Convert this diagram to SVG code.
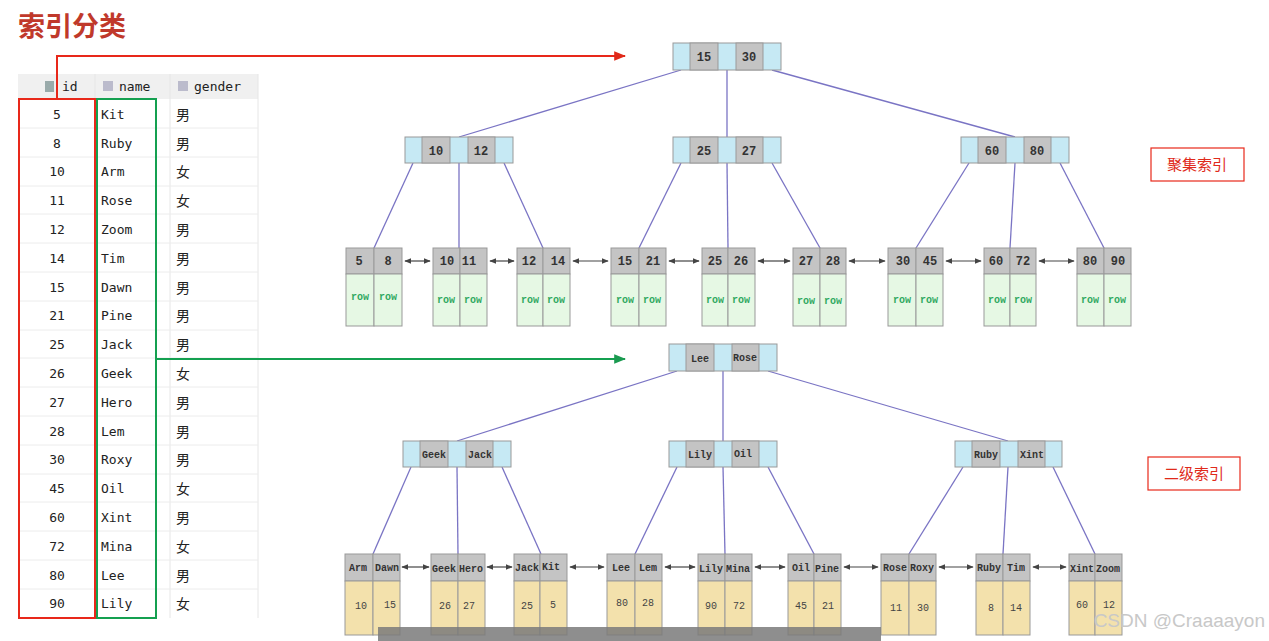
<svg xmlns="http://www.w3.org/2000/svg" width="1269" height="641" viewBox="0 0 1269 641">
<style>
.tb{font-family:"DejaVu Sans Mono","Liberation Mono",monospace;font-size:13px;fill:#222}
.cj{font-family:"Noto Sans CJK SC",sans-serif;font-size:14px;fill:#222}
.bl{fill:#c6e9f4;stroke:#999;stroke-width:1}
.gr{fill:#c4c4c4;stroke:#999;stroke-width:1}
.gn{fill:#e6f8e4;stroke:#999;stroke-width:1}
.yl{fill:#f3e1ac;stroke:#999;stroke-width:1}
.k{font-family:"Liberation Mono",monospace;font-weight:bold;font-size:12px;fill:#333;text-anchor:middle}
.ks{font-family:"Liberation Mono",monospace;font-weight:bold;font-size:10px;fill:#333;text-anchor:middle}
.rw{font-family:"Liberation Mono",monospace;font-weight:bold;font-size:10px;fill:#2fa860;text-anchor:middle}
.yv{font-family:"Liberation Mono",monospace;font-size:10px;fill:#444;text-anchor:middle}
.e{stroke:#7a74c4;stroke-width:1.3;fill:none}
.la{stroke:#444;stroke-width:1.2;marker-start:url(#ah);marker-end:url(#ah)}
.lbl{font-family:"Noto Sans CJK SC",sans-serif;font-size:15px;fill:#e02a1a;text-anchor:middle}
</style>
<defs>
<marker id="ah" viewBox="0 0 10 10" refX="9" refY="5" markerWidth="6" markerHeight="6" orient="auto-start-reverse"><path d="M0,1 L10,5 L0,9 z" fill="#444"/></marker>
<marker id="ar" viewBox="0 0 10 10" refX="9" refY="5" markerWidth="6" markerHeight="6" orient="auto"><path d="M0,1 L10,5 L0,9 z" fill="#e02a1a"/></marker>
<marker id="ag" viewBox="0 0 10 10" refX="9" refY="5" markerWidth="6" markerHeight="6" orient="auto"><path d="M0,1 L10,5 L0,9 z" fill="#1a9a50"/></marker>
</defs>
<rect width="1269" height="641" fill="#fff"/>
<text x="18" y="36" font-family="Noto Sans CJK SC,sans-serif" font-size="27" font-weight="bold" fill="#c0392b">索引分类</text>

<g id="table">
<rect x="18" y="74" width="240" height="25" fill="#f0f0f0"/>
<rect x="45" y="81" width="9" height="11" fill="#9aa" /><text x="62" y="91" class="tb">id</text>
<rect x="103" y="81" width="10" height="10" fill="#bbc"/><text x="119" y="91" class="tb">name</text>
<rect x="178" y="81" width="10" height="10" fill="#bbc"/><text x="194" y="91" class="tb">gender</text>
<g stroke="#e6e6e6" stroke-width="1">
<line x1="95" y1="74" x2="95" y2="618"/><line x1="170" y1="74" x2="170" y2="618"/><line x1="258" y1="74" x2="258" y2="618"/>
</g>
<g class="tb" id="rows"></g>
</g>
<g id="tablerows">
<g stroke="#ececec"><line x1="18" y1="128" x2="258" y2="128"/><line x1="18" y1="157" x2="258" y2="157"/><line x1="18" y1="186" x2="258" y2="186"/><line x1="18" y1="214" x2="258" y2="214"/><line x1="18" y1="243" x2="258" y2="243"/><line x1="18" y1="272" x2="258" y2="272"/><line x1="18" y1="301" x2="258" y2="301"/><line x1="18" y1="330" x2="258" y2="330"/><line x1="18" y1="358" x2="258" y2="358"/><line x1="18" y1="387" x2="258" y2="387"/><line x1="18" y1="416" x2="258" y2="416"/><line x1="18" y1="445" x2="258" y2="445"/><line x1="18" y1="474" x2="258" y2="474"/><line x1="18" y1="502" x2="258" y2="502"/><line x1="18" y1="531" x2="258" y2="531"/><line x1="18" y1="560" x2="258" y2="560"/><line x1="18" y1="589" x2="258" y2="589"/></g>
<g class="tb" text-anchor="middle">
<text x="57" y="119">5</text><text x="57" y="148">8</text><text x="57" y="176">10</text><text x="57" y="205">11</text><text x="57" y="234">12</text><text x="57" y="263">14</text><text x="57" y="292">15</text><text x="57" y="320">21</text><text x="57" y="349">25</text><text x="57" y="378">26</text><text x="57" y="407">27</text><text x="57" y="436">28</text><text x="57" y="464">30</text><text x="57" y="493">45</text><text x="57" y="522">60</text><text x="57" y="551">72</text><text x="57" y="580">80</text><text x="57" y="608">90</text>
</g>
<g class="tb">
<text x="101" y="119">Kit</text><text x="101" y="148">Ruby</text><text x="101" y="176">Arm</text><text x="101" y="205">Rose</text><text x="101" y="234">Zoom</text><text x="101" y="263">Tim</text><text x="101" y="292">Dawn</text><text x="101" y="320">Pine</text><text x="101" y="349">Jack</text><text x="101" y="378">Geek</text><text x="101" y="407">Hero</text><text x="101" y="436">Lem</text><text x="101" y="464">Roxy</text><text x="101" y="493">Oil</text><text x="101" y="522">Xint</text><text x="101" y="551">Mina</text><text x="101" y="580">Lee</text><text x="101" y="608">Lily</text>
</g>
<g class="cj">
<text x="176" y="120">男</text><text x="176" y="149">男</text><text x="176" y="177">女</text><text x="176" y="206">女</text><text x="176" y="235">男</text><text x="176" y="264">男</text><text x="176" y="293">男</text><text x="176" y="321">男</text><text x="176" y="350">男</text><text x="176" y="379">女</text><text x="176" y="408">男</text><text x="176" y="437">男</text><text x="176" y="465">男</text><text x="176" y="494">女</text><text x="176" y="523">男</text><text x="176" y="552">女</text><text x="176" y="581">男</text><text x="176" y="609">女</text>
</g>
<rect x="19" y="99" width="76" height="519" fill="none" stroke="#e8281a" stroke-width="2"/>
<rect x="97" y="99" width="59" height="519" fill="none" stroke="#14a050" stroke-width="2"/>
</g>

<g id="connectors">
<path d="M57,99 V56 H625" fill="none" stroke="#e8281a" stroke-width="2" marker-end="url(#ar)"/>
<path d="M156,359 H625" fill="none" stroke="#14a050" stroke-width="2" marker-end="url(#ag)"/>
<g class="e">
<line x1="681" y1="70" x2="459" y2="137"/><line x1="727" y1="70" x2="727" y2="137"/><line x1="772" y1="70" x2="1015" y2="137"/>
<line x1="413" y1="163" x2="374" y2="248"/><line x1="459" y1="163" x2="459" y2="248"/><line x1="504" y1="163" x2="543" y2="248"/>
<line x1="681" y1="163" x2="639" y2="248"/><line x1="727" y1="163" x2="728" y2="248"/><line x1="772" y1="163" x2="820" y2="248"/>
<line x1="969" y1="163" x2="916" y2="248"/><line x1="1015" y1="163" x2="1010" y2="248"/><line x1="1060" y1="163" x2="1104" y2="248"/>
<line x1="677" y1="371" x2="457" y2="441"/><line x1="723" y1="371" x2="723" y2="441"/><line x1="768" y1="371" x2="1008" y2="441"/>
<line x1="411" y1="467" x2="373" y2="554"/><line x1="457" y1="467" x2="458" y2="554"/><line x1="502" y1="467" x2="541" y2="554"/>
<line x1="677" y1="467" x2="635" y2="554"/><line x1="723" y1="467" x2="725" y2="554"/><line x1="768" y1="467" x2="814" y2="554"/>
<line x1="963" y1="467" x2="909" y2="554"/><line x1="1008" y1="467" x2="1003" y2="554"/><line x1="1053" y1="467" x2="1095" y2="554"/>
</g>
<line class="la" x1="405" y1="261" x2="430" y2="261"/><line class="la" x1="490" y1="261" x2="514" y2="261"/><line class="la" x1="573" y1="261" x2="608" y2="261"/><line class="la" x1="669" y1="261" x2="699" y2="261"/><line class="la" x1="758" y1="261" x2="790" y2="261"/><line class="la" x1="849" y1="261" x2="885" y2="261"/><line class="la" x1="946" y1="261" x2="981" y2="261"/><line class="la" x1="1039" y1="261" x2="1074" y2="261"/>
<line class="la" x1="402" y1="567" x2="429" y2="567"/><line class="la" x1="487" y1="567" x2="512" y2="567"/><line class="la" x1="570" y1="567" x2="604" y2="567"/><line class="la" x1="665" y1="567" x2="695" y2="567"/><line class="la" x1="755" y1="567" x2="785" y2="567"/><line class="la" x1="844" y1="567" x2="878" y2="567"/><line class="la" x1="939" y1="567" x2="973" y2="567"/><line class="la" x1="1033" y1="567" x2="1066" y2="567"/>
</g>

<g id="c-root"><rect class="bl" x="673" y="43" width="108" height="27"/><rect class="gr" x="690" y="43" width="28" height="27"/><rect class="gr" x="736" y="43" width="27" height="27"/><text class="k" x="704" y="61">15</text><text class="k" x="749" y="61">30</text></g>
<g id="c-n1"><rect class="bl" x="405" y="137" width="108" height="26"/><rect class="gr" x="422" y="137" width="28" height="26"/><rect class="gr" x="468" y="137" width="27" height="26"/><text class="k" x="436" y="155">10</text><text class="k" x="481" y="155">12</text></g>
<g id="c-n2"><rect class="bl" x="673" y="137" width="108" height="26"/><rect class="gr" x="690" y="137" width="28" height="26"/><rect class="gr" x="736" y="137" width="27" height="26"/><text class="k" x="704" y="155">25</text><text class="k" x="749" y="155">27</text></g>
<g id="c-n3"><rect class="bl" x="961" y="137" width="108" height="26"/><rect class="gr" x="978" y="137" width="28" height="26"/><rect class="gr" x="1024" y="137" width="27" height="26"/><text class="k" x="992" y="155">60</text><text class="k" x="1037" y="155">80</text></g>

<g id="c-leaves">
<g><rect class="gr" x="346" y="248" width="28" height="26"/><rect class="gr" x="374" y="248" width="28" height="26"/><rect class="gn" x="346" y="274" width="28" height="52"/><rect class="gn" x="374" y="274" width="28" height="52"/><text class="k" x="359" y="265">5</text><text class="k" x="388" y="265">8</text><text class="rw" x="360" y="300">row</text><text class="rw" x="388" y="300">row</text></g>
<g><rect class="gr" x="433" y="248" width="27" height="26"/><rect class="gr" x="460" y="248" width="27" height="26"/><rect class="gn" x="433" y="274" width="27" height="52"/><rect class="gn" x="460" y="274" width="27" height="52"/><text class="k" x="447" y="265">10</text><text class="k" x="469" y="265">11</text><text class="rw" x="446" y="303">row</text><text class="rw" x="473" y="303">row</text></g>
<g><rect class="gr" x="517" y="248" width="26" height="26"/><rect class="gr" x="543" y="248" width="27" height="26"/><rect class="gn" x="517" y="274" width="26" height="52"/><rect class="gn" x="543" y="274" width="27" height="52"/><text class="k" x="529" y="265">12</text><text class="k" x="558" y="265">14</text><text class="rw" x="530" y="303">row</text><text class="rw" x="556" y="303">row</text></g>
<g><rect class="gr" x="611" y="248" width="28" height="26"/><rect class="gr" x="639" y="248" width="27" height="26"/><rect class="gn" x="611" y="274" width="28" height="52"/><rect class="gn" x="639" y="274" width="27" height="52"/><text class="k" x="625" y="265">15</text><text class="k" x="653" y="265">21</text><text class="rw" x="625" y="303">row</text><text class="rw" x="652" y="303">row</text></g>
<g><rect class="gr" x="702" y="248" width="26" height="26"/><rect class="gr" x="728" y="248" width="27" height="26"/><rect class="gn" x="702" y="274" width="26" height="52"/><rect class="gn" x="728" y="274" width="27" height="52"/><text class="k" x="715" y="265">25</text><text class="k" x="741" y="265">26</text><text class="rw" x="715" y="303">row</text><text class="rw" x="741" y="303">row</text></g>
<g><rect class="gr" x="793" y="248" width="27" height="26"/><rect class="gr" x="820" y="248" width="26" height="26"/><rect class="gn" x="793" y="274" width="27" height="52"/><rect class="gn" x="820" y="274" width="26" height="52"/><text class="k" x="806" y="265">27</text><text class="k" x="833" y="265">28</text><text class="rw" x="806" y="304">row</text><text class="rw" x="833" y="304">row</text></g>
<g><rect class="gr" x="888" y="248" width="28" height="26"/><rect class="gr" x="916" y="248" width="27" height="26"/><rect class="gn" x="888" y="274" width="28" height="52"/><rect class="gn" x="916" y="274" width="27" height="52"/><text class="k" x="903" y="265">30</text><text class="k" x="930" y="265">45</text><text class="rw" x="902" y="303">row</text><text class="rw" x="929" y="303">row</text></g>
<g><rect class="gr" x="984" y="248" width="26" height="26"/><rect class="gr" x="1010" y="248" width="26" height="26"/><rect class="gn" x="984" y="274" width="26" height="52"/><rect class="gn" x="1010" y="274" width="26" height="52"/><text class="k" x="996" y="265">60</text><text class="k" x="1023" y="265">72</text><text class="rw" x="997" y="303">row</text><text class="rw" x="1023" y="303">row</text></g>
<g><rect class="gr" x="1077" y="248" width="27" height="26"/><rect class="gr" x="1104" y="248" width="27" height="26"/><rect class="gn" x="1077" y="274" width="27" height="52"/><rect class="gn" x="1104" y="274" width="27" height="52"/><text class="k" x="1090" y="265">80</text><text class="k" x="1118" y="265">90</text><text class="rw" x="1090" y="303">row</text><text class="rw" x="1117" y="303">row</text></g>
</g>

<g id="s-root"><rect class="bl" x="669" y="344" width="108" height="27"/><rect class="gr" x="686" y="344" width="28" height="27"/><rect class="gr" x="732" y="344" width="27" height="27"/><text class="ks" x="700" y="362">Lee</text><text class="ks" x="745" y="361">Rose</text></g>
<g id="s-n1"><rect class="bl" x="403" y="441" width="108" height="26"/><rect class="gr" x="420" y="441" width="28" height="26"/><rect class="gr" x="466" y="441" width="27" height="26"/><text class="ks" x="434" y="458">Geek</text><text class="ks" x="480" y="458">Jack</text></g>
<g id="s-n2"><rect class="bl" x="669" y="441" width="108" height="26"/><rect class="gr" x="686" y="441" width="28" height="26"/><rect class="gr" x="732" y="441" width="27" height="26"/><text class="ks" x="700" y="458">Lily</text><text class="ks" x="743" y="457">Oil</text></g>
<g id="s-n3"><rect class="bl" x="955" y="441" width="107" height="26"/><rect class="gr" x="972" y="441" width="28" height="26"/><rect class="gr" x="1018" y="441" width="27" height="26"/><text class="ks" x="986" y="458">Ruby</text><text class="ks" x="1032" y="458">Xint</text></g>

<g id="s-leaves">
<g><rect class="gr" x="345" y="554" width="28" height="27"/><rect class="gr" x="373" y="554" width="27" height="27"/><rect class="yl" x="345" y="581" width="28" height="54"/><rect class="yl" x="373" y="581" width="27" height="54"/><text class="ks" x="358" y="571">Arm</text><text class="ks" x="387" y="571">Dawn</text><text class="yv" x="361" y="609">10</text><text class="yv" x="390" y="608">15</text></g>
<g><rect class="gr" x="431" y="554" width="27" height="27"/><rect class="gr" x="458" y="554" width="27" height="27"/><rect class="yl" x="431" y="581" width="27" height="54"/><rect class="yl" x="458" y="581" width="27" height="54"/><text class="ks" x="444" y="572">Geek</text><text class="ks" x="471" y="572">Hero</text><text class="yv" x="445" y="609">26</text><text class="yv" x="469" y="609">27</text></g>
<g><rect class="gr" x="514" y="554" width="26" height="27"/><rect class="gr" x="540" y="554" width="27" height="27"/><rect class="yl" x="514" y="581" width="26" height="54"/><rect class="yl" x="540" y="581" width="27" height="54"/><text class="ks" x="527" y="571">Jack</text><text class="ks" x="551" y="570">Kit</text><text class="yv" x="527" y="609">25</text><text class="yv" x="553" y="608">5</text></g>
<g><rect class="gr" x="607" y="554" width="28" height="27"/><rect class="gr" x="635" y="554" width="27" height="27"/><rect class="yl" x="607" y="581" width="28" height="54"/><rect class="yl" x="635" y="581" width="27" height="54"/><text class="ks" x="621" y="571">Lee</text><text class="ks" x="648" y="571">Lem</text><text class="yv" x="622" y="606">80</text><text class="yv" x="648" y="606">28</text></g>
<g><rect class="gr" x="698" y="554" width="27" height="27"/><rect class="gr" x="725" y="554" width="27" height="27"/><rect class="yl" x="698" y="581" width="27" height="54"/><rect class="yl" x="725" y="581" width="27" height="54"/><text class="ks" x="711" y="572">Lily</text><text class="ks" x="738" y="572">Mina</text><text class="yv" x="711" y="609">90</text><text class="yv" x="739" y="609">72</text></g>
<g><rect class="gr" x="788" y="554" width="26" height="27"/><rect class="gr" x="814" y="554" width="27" height="27"/><rect class="yl" x="788" y="581" width="26" height="54"/><rect class="yl" x="814" y="581" width="27" height="54"/><text class="ks" x="801" y="571">Oil</text><text class="ks" x="827" y="572">Pine</text><text class="yv" x="801" y="609">45</text><text class="yv" x="828" y="609">21</text></g>
<g><rect class="gr" x="881" y="554" width="28" height="27"/><rect class="gr" x="909" y="554" width="27" height="27"/><rect class="yl" x="881" y="581" width="28" height="54"/><rect class="yl" x="909" y="581" width="27" height="54"/><text class="ks" x="895" y="571">Rose</text><text class="ks" x="922" y="571">Roxy</text><text class="yv" x="896" y="611">11</text><text class="yv" x="923" y="611">30</text></g>
<g><rect class="gr" x="976" y="554" width="27" height="27"/><rect class="gr" x="1003" y="554" width="27" height="27"/><rect class="yl" x="976" y="581" width="27" height="54"/><rect class="yl" x="1003" y="581" width="27" height="54"/><text class="ks" x="989" y="571">Ruby</text><text class="ks" x="1016" y="571">Tim</text><text class="yv" x="991" y="611">8</text><text class="yv" x="1016" y="611">14</text></g>
<g><rect class="gr" x="1069" y="554" width="26" height="27"/><rect class="gr" x="1095" y="554" width="27" height="27"/><rect class="yl" x="1069" y="581" width="26" height="54"/><rect class="yl" x="1095" y="581" width="27" height="54"/><text class="ks" x="1082" y="572">Xint</text><text class="ks" x="1108" y="572">Zoom</text><text class="yv" x="1082" y="608">60</text><text class="yv" x="1109" y="608">12</text></g>
</g>

<g id="label-clustered"><rect x="1151" y="148" width="93" height="33" fill="#fff" stroke="#e8281a" stroke-width="1.2"/><text class="lbl" x="1197" y="170">聚集索引</text></g>
<g id="label-secondary"><rect x="1148" y="457" width="92" height="33" fill="#fff" stroke="#e8281a" stroke-width="1.2"/><text class="lbl" x="1194" y="479">二级索引</text></g>
<rect x="378" y="627" width="503" height="14" fill="#7a7a7a" opacity="0.85"/>
<text x="1265" y="627" text-anchor="end" font-family="Liberation Sans,sans-serif" font-size="19" fill="#c8c8c8">CSDN @Craaaayon</text>
</svg>
